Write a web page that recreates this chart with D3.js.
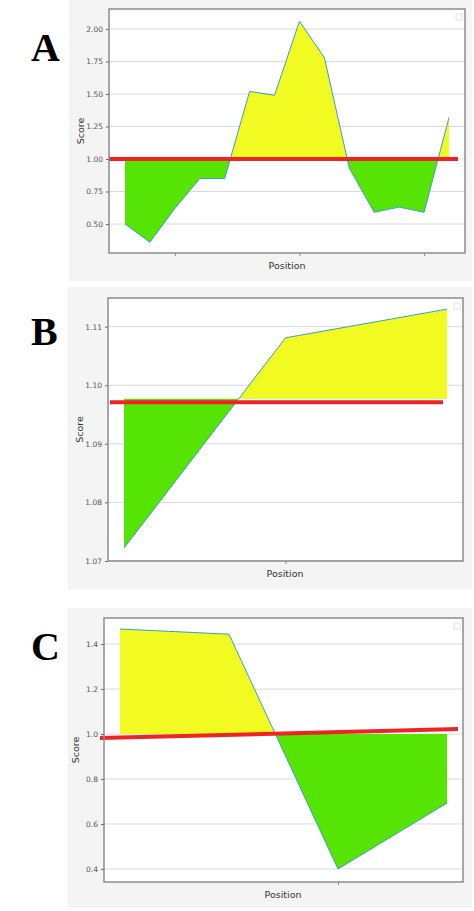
<!DOCTYPE html>
<html>
<head>
<meta charset="utf-8">
<script src="https://cdn.jsdelivr.net/npm/d3@7"></script>
<style>
  body { margin: 0; background: #fff; }
  svg { display: block; }
  .tick-label { font-family: "DejaVu Sans", sans-serif; font-size: 7.5px; fill: #555; }
  .axis-title { font-family: "DejaVu Sans", sans-serif; font-size: 9.5px; fill: #333; }
  .panel-letter { font-family: "Liberation Serif", "Times New Roman", serif; font-weight: bold; font-size: 40px; fill: #000; }
</style>
</head>
<body>
<div id="chart"></div>
<script>
// Score values, one per position
var scoresA = [0.50, 0.36, 0.62, 0.85, 0.85, 1.52, 1.49, 2.06, 1.78, 0.93, 0.59, 0.63, 0.59, 1.32];
var scoresB = [1.0722, 1.1081, 1.1130];
var scoresC = [1.467, 1.444, 0.40, 0.693];

// y tick labels
var ticksA = [0.50, 0.75, 1.00, 1.25, 1.50, 1.75, 2.00];
var ticksB = [1.07, 1.08, 1.09, 1.10, 1.11];
var ticksC = [0.4, 0.6, 0.8, 1.0, 1.2, 1.4];

// positions that carry an x tick (no labels shown)
var xTicksA = [2, 7, 12];
var xTicksB = [1];
var xTicksC = [2];

// baseline the fill splits on, and the red reference line (start, end)
var baseA = 1.00, redA = [1.00, 1.00];
var baseB = 1.0977, redB = [1.0971, 1.0971];
var baseC = 1.00, redC = [0.982, 1.022];

var W = 474, H = 911;

var svg = d3.select("#chart").append("svg")
    .attr("width", W)
    .attr("height", H);

/**
 * Draws one panel. box is the gray background, frame the plot area,
 * yDom the score range shown, redX the red line ends relative to frame.
 */
function drawPanel(p) {
    var g = svg.append("g");

    g.append("rect")
        .attr("x", p.box[0]).attr("y", p.box[1])
        .attr("width", p.box[2] - p.box[0]).attr("height", p.box[3] - p.box[1])
        .attr("fill", "#f4f4f4");

    g.append("text")
        .attr("class", "panel-letter")
        .attr("x", 31).attr("y", p.letterY)
        .text(p.letter);

    var fx = p.frame[0], fy = p.frame[1];
    var fw = p.frame[2] - p.frame[0], fh = p.frame[3] - p.frame[1];

    var plot = g.append("g").attr("transform", "translate(" + fx + "," + fy + ")");

    plot.append("rect")
        .attr("width", fw).attr("height", fh)
        .attr("fill", "#fff");

    var x = d3.scaleLinear()
        .domain([0, p.scores.length - 1])
        .range([16, fw - 16]);
    var y = d3.scaleLinear()
        .domain(p.yDom)
        .range([fh, 0]);

    // grid lines
    plot.selectAll(".grid")
        .data(p.ticks).enter()
        .append("line")
            .attr("x1", 0).attr("x2", fw)
            .attr("y1", function(d) { return y(d); })
            .attr("y2", function(d) { return y(d); })
            .attr("stroke", "#dadada")
            .attr("stroke-width", 1);

    // y axis (labels + small ticks)
    var yAxis = d3.axisLeft(y)
        .tickValues(p.ticks)
        .tickFormat(d3.format(p.fmt))
        .tickSizeInner(3).tickSizeOuter(0).tickPadding(3);
    var ya = plot.append("g").call(yAxis);
    ya.select(".domain").remove();
    ya.selectAll("line").attr("stroke", "#666");
    ya.selectAll("text").attr("class", "tick-label").attr("font-size", null).attr("font-family", null).attr("fill", null);

    // x axis, ticks only
    var xAxis = d3.axisBottom(x)
        .tickValues(p.xTicks)
        .tickFormat("")
        .tickSizeInner(3).tickSizeOuter(0);
    var xa = plot.append("g").attr("transform", "translate(0," + fh + ")").call(xAxis);
    xa.select(".domain").remove();
    xa.selectAll("line").attr("stroke", "#888");

    // fills split by baseline with clip rects
    var by = y(p.base);
    var id = "clip" + p.letter;
    var defs = plot.append("defs");
    defs.append("clipPath").attr("id", id + "up")
        .append("rect").attr("x", 0).attr("y", 0).attr("width", fw).attr("height", by);
    defs.append("clipPath").attr("id", id + "dn")
        .append("rect").attr("x", 0).attr("y", by).attr("width", fw).attr("height", fh - by);

    var area = d3.area()
        .x(function(d, i) { return x(i); })
        .y0(by)
        .y1(function(d) { return y(d); });

    plot.append("path")
        .datum(p.scores)
        .attr("d", area)
        .attr("fill", "#f1fb22")
        .attr("clip-path", "url(#" + id + "up)");
    plot.append("path")
        .datum(p.scores)
        .attr("d", area)
        .attr("fill", "#55e404")
        .attr("clip-path", "url(#" + id + "dn)");

    var line = d3.line()
        .x(function(d, i) { return x(i); })
        .y(function(d) { return y(d); });
    plot.append("path")
        .datum(p.scores)
        .attr("d", line)
        .attr("fill", "none")
        .attr("stroke", "#3c9fc0")
        .attr("stroke-width", 1);

    // red reference line
    plot.append("line")
        .attr("x1", p.redX[0]).attr("x2", fw + p.redX[1])
        .attr("y1", y(p.red[0])).attr("y2", y(p.red[1]))
        .attr("stroke", "#ee2424")
        .attr("stroke-width", 4);

    // frame
    plot.append("rect")
        .attr("width", fw).attr("height", fh)
        .attr("fill", "none")
        .attr("stroke", "#8c8c8c")
        .attr("stroke-width", 1.5);

    // little box at the top right corner
    plot.append("rect")
        .attr("x", fw - 9).attr("y", 5)
        .attr("width", 6).attr("height", 6)
        .attr("fill", "none")
        .attr("stroke", "#e4e4e4");

    g.append("text")
        .attr("class", "axis-title")
        .attr("text-anchor", "middle")
        .attr("transform", "translate(" + (fx - 25) + "," + (fy + fh / 2) + ") rotate(-90)")
        .text("Score");

    g.append("text")
        .attr("class", "axis-title")
        .attr("text-anchor", "middle")
        .attr("x", p.posX).attr("y", fy + fh + 16)
        .text("Position");
}

drawPanel({
    letter: "A", letterY: 61,
    box: [69, 0, 472, 281], frame: [109, 9, 465, 253],
    yDom: [0.277, 2.154], scores: scoresA, ticks: ticksA, fmt: ".2f",
    xTicks: xTicksA, base: baseA, red: redA, redX: [0, -7], posX: 287
});

drawPanel({
    letter: "B", letterY: 345,
    box: [68, 287, 472, 590], frame: [108, 298, 463, 561],
    yDom: [1.07, 1.1149], scores: scoresB, ticks: ticksB, fmt: ".2f",
    xTicks: xTicksB, base: baseB, red: redB, redX: [2, -20], posX: 285
});

drawPanel({
    letter: "C", letterY: 660,
    box: [68, 608, 472, 908], frame: [104, 618, 463, 882],
    yDom: [0.342, 1.516], scores: scoresC, ticks: ticksC, fmt: ".1f",
    xTicks: xTicksC, base: baseC, red: redC, redX: [-4, -5], posX: 283
});
</script>
</body>
</html>
